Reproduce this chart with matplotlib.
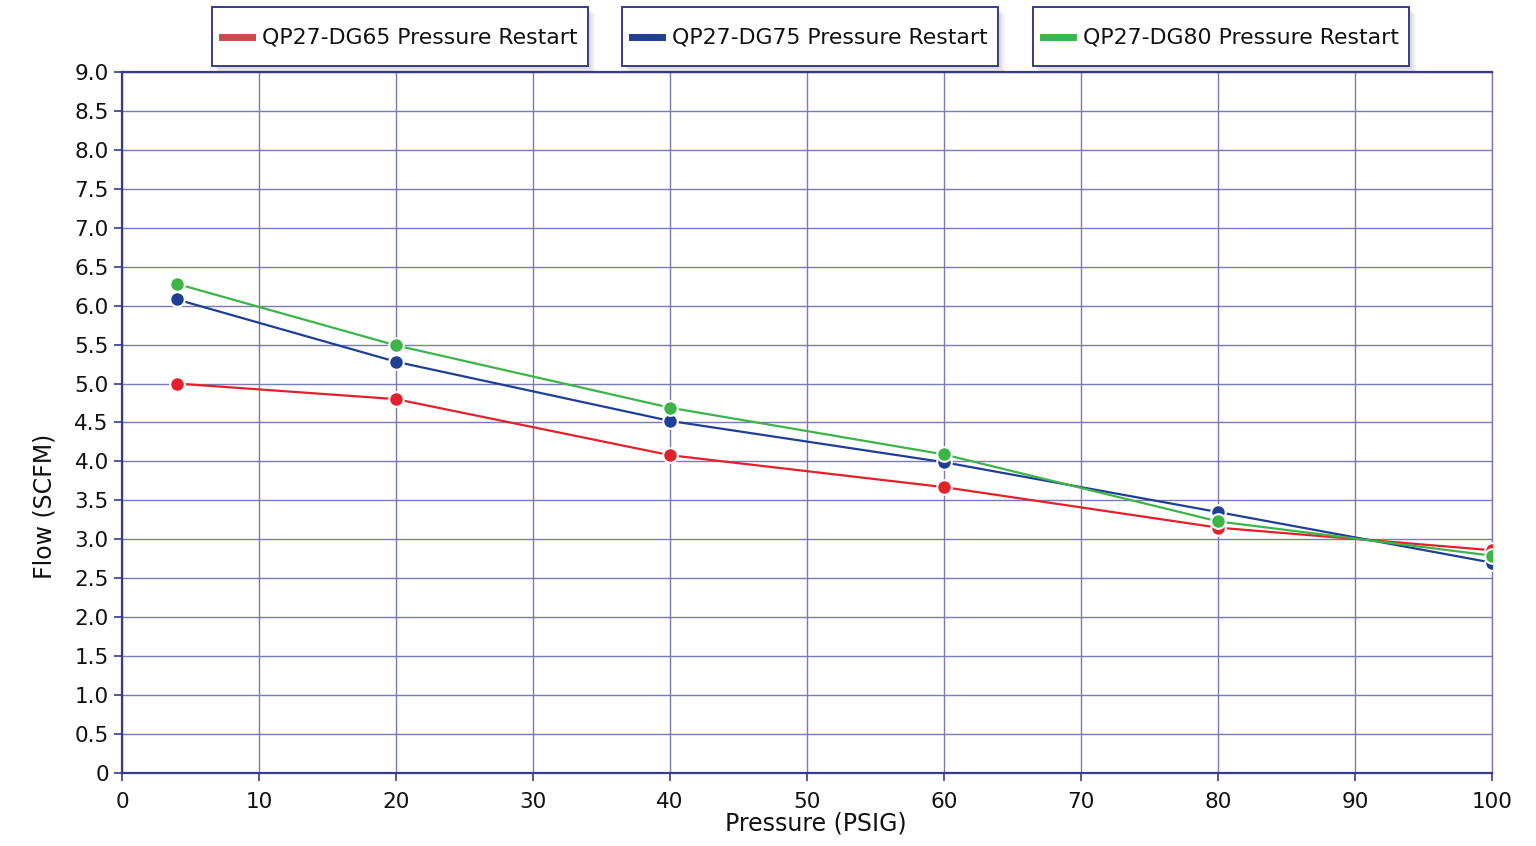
import matplotlib
matplotlib.use("Agg")
import matplotlib.pyplot as plt
from matplotlib.lines import Line2D
from matplotlib.patches import Rectangle
from matplotlib.ticker import FuncFormatter

pressure = [4, 20, 40, 60, 80, 100]
dg65 = [5.0, 4.8, 4.08, 3.67, 3.15, 2.86]
dg75 = [6.08, 5.28, 4.52, 3.99, 3.35, 2.70]
dg80 = [6.28, 5.49, 4.69, 4.09, 3.23, 2.79]
labels = ["QP27-DG65 Pressure Restart", "QP27-DG75 Pressure Restart", "QP27-DG80 Pressure Restart"]
line_colors = ["#e3212b", "#1f3f95", "#3cb448"]
legend_colors = ["#c4504c", "#1f3f95", "#3cb448"]

W, H = 1536, 846
plt.rcParams['font.family'] = ['DejaVu Sans']
fig = plt.figure(figsize=(W / 100, H / 100), dpi=100)
ax = fig.add_axes([0.0794, 0.0863, 0.892, 0.8286])

for ys, c in zip([dg65, dg75, dg80], line_colors):
    ax.plot(pressure, ys, color=c, lw=1.6, marker='o', markersize=10.5,
            markerfacecolor=c, markeredgecolor='white', markeredgewidth=1.5, zorder=3)

ax.set_xlim(0, 100)
ax.set_ylim(0, 9.0)
ax.set_xticks(range(0, 101, 10))
ax.set_yticks([i * 0.5 for i in range(19)])
ax.yaxis.set_major_formatter(FuncFormatter(lambda v, p: "0" if v == 0 else f"{v:.1f}"))
ax.grid(True, color="#7a7ab4", lw=1.0)
ax.set_axisbelow(True)
navy = "#3a3a8c"
for s in ['left', 'bottom', 'top']:
    ax.spines[s].set_color(navy)
    ax.spines[s].set_linewidth(1.6)
ax.spines['right'].set_color("#7a7ab4")
ax.spines['right'].set_linewidth(1.0)
ax.tick_params(axis='both', colors=navy, labelcolor='#111111', labelsize=15.5, length=6, width=1.2)
ax.tick_params(axis='x', pad=8)
ax.set_xlabel("Pressure (PSIG)", fontsize=17, color='#111111')
ax.set_ylabel("Flow (SCFM)", fontsize=17, color='#111111')
ax.xaxis.set_label_coords(0.5066, -0.055)
ax.yaxis.set_label_coords(-0.048, 0.38)

# legend boxes (pixel layout converted to figure fractions)
box_left = [212, 622, 1033]
box_w, box_top, box_h = 376, 7, 59
for lab, c, x0 in zip(labels, legend_colors, box_left):
    # soft shadow
    for k, a in [(7, 0.04), (5, 0.05), (3, 0.06)]:
        fig.patches.append(Rectangle(((x0 + k) / W, 1 - (box_top + box_h + k) / H),
                                     box_w / W, box_h / H, transform=fig.transFigure,
                                     facecolor='black', edgecolor='none', alpha=a, zorder=5))
    fig.patches.append(Rectangle((x0 / W, 1 - (box_top + box_h) / H), box_w / W, box_h / H,
                                 transform=fig.transFigure, facecolor='white',
                                 edgecolor=navy, lw=1.4, zorder=6))
    yc = 1 - (box_top + box_h / 2 + 0.5) / H
    fig.lines.append(Line2D([(x0 + 10) / W, (x0 + 40) / W], [yc, yc], transform=fig.transFigure,
                            color=c, lw=5, zorder=7))
    fig.text((x0 + 50) / W, yc, lab, fontsize=15.8, color='#111111', ha='left', va='center',
             zorder=8)

fig.savefig("out.png", dpi=100)
